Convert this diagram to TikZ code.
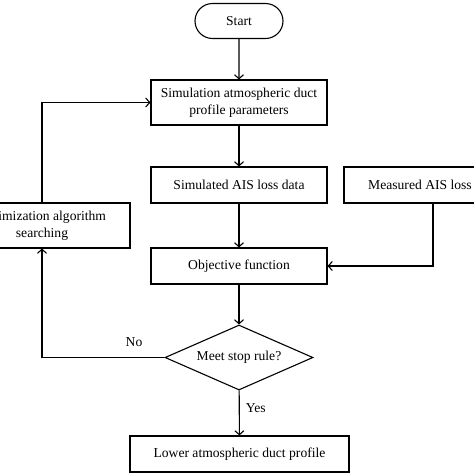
\documentclass[tikz,border=0pt]{standalone}
\usepackage{fontspec}
\setmainfont{Liberation Serif}
\usetikzlibrary{shapes.geometric,shapes.misc,arrows.meta}
\begin{document}
\begin{tikzpicture}[x=1pt,y=-1pt,
  every node/.style={font=\fontsize{13.6}{16.5}\selectfont, inner sep=0pt},
  procbox/.style={draw, line width=1.1pt, rectangle, minimum width=176pt, minimum height=36pt, align=center},
  termbox/.style={draw, line width=1.1pt, rounded rectangle, minimum width=88pt, minimum height=35pt},
  decbox/.style={draw, line width=1.1pt, diamond, minimum width=148pt, minimum height=65pt, aspect=2.3},
  conn/.style={line width=1.1pt, -{Straight Barb[length=4pt,width=9pt]}},
  lbl/.style={font=\fontsize{13.6}{16.5}\selectfont}
]
\useasboundingbox (0,0) rectangle (474,474);
\clip (0,0) rectangle (474,474);
\fill[white] (0,0) rectangle (474,474);
\node[termbox] (start) at (239,21) {Start};
\node[procbox, minimum height=45pt] (sim) at (239,102.5) {Simulation atmospheric duct\\profile parameters};
\node[procbox] (simais) at (239,185) {Simulated AIS loss data};
\node[procbox, minimum width=178pt] (meas) at (433,185) {Measured AIS loss data};
\node[procbox, minimum height=45pt, minimum width=176pt] (opt) at (42,225.5) {Optimization algorithm\\searching};
\node[procbox] (obj) at (239,266) {Objective function};
\node[decbox] (dec) at (239,357.5) {Meet stop rule?};
\node[procbox, minimum width=219pt] (low) at (239.5,454) {Lower atmospheric duct profile};
\draw[conn] (start) -- (sim);
\draw[conn] (sim) -- (simais);
\draw[conn] (simais) -- (obj);
\draw[conn] (obj) -- (dec);
\draw[conn] (dec) -- node[lbl, right=6pt, pos=0.4] {Yes} (low);
\draw[conn] (dec.west) -| (opt.south);
\node[lbl] (no) at (134,342) {No};
\draw[conn] (opt.north) |- (sim.west);
\draw[conn] (meas.south) |- (obj.east);
\end{tikzpicture}
\end{document}
